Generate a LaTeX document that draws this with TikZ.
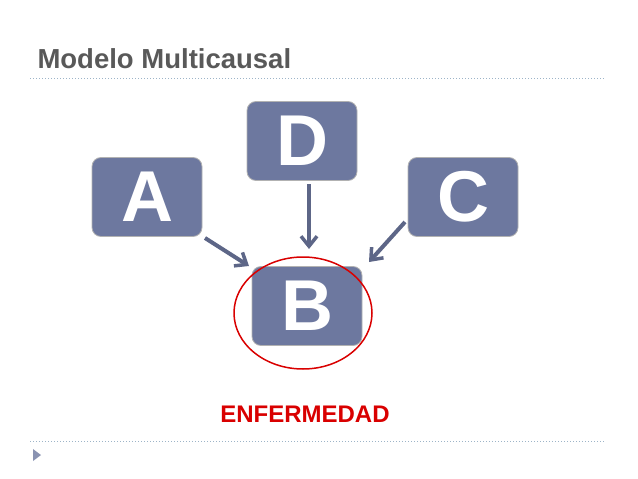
\documentclass[tikz,border=0pt]{standalone}
\usepackage{fontspec}
\setmainfont{Liberation Sans}
\usetikzlibrary{arrows.meta}
\definecolor{boxc}{HTML}{6D789F}
\definecolor{titc}{HTML}{595959}
\definecolor{dotc}{HTML}{9DB4C8}
\begin{document}
\begin{tikzpicture}[x=1pt,y=-1pt,
  box/.style={draw=gray!60,line width=0.8pt,fill=boxc,rounded corners=9pt,minimum width=110pt,minimum height=79pt,inner sep=0pt,text=white,font=\fontsize{72}{72}\selectfont\bfseries},
  arr/.style={draw=boxc!85!black,line width=4pt,-{Straight Barb[length=10pt,width=16pt,line width=3.5pt]}}]
\useasboundingbox (0,0) rectangle (638,479);
\node[anchor=west,text=titc,font=\fontsize{27.5}{27.5}\selectfont\bfseries] (title) at (34,59) {Modelo Multicausal};
\draw[dotc,dotted,line width=1pt] (30,78) -- (605,78);
\draw[dotc,dotted,line width=1pt] (30,441) -- (605,441);
\fill[boxc!80] (33,449) -- (41,455) -- (33,461) -- cycle;
\node[box] (A) at (147,197) {A};
\node[box] (D) at (302,141) {D};
\node[box] (C) at (463,197) {C};
\node[box] (B) at (307,306) {B};
\draw[red!85!black,line width=1.5pt] (303,313) ellipse [x radius=69,y radius=56];
\coordinate (a1) at (205,238); \coordinate (a2) at (249,266);
\coordinate (d1) at (309,184); \coordinate (d2) at (309,249);
\coordinate (c1) at (405,222); \coordinate (c2) at (369,262);
\draw[arr] (a1) -- (a2);
\draw[arr] (d1) -- (d2);
\draw[arr] (c1) -- (c2);
\node[text=red!85!black,font=\fontsize{24}{24}\selectfont\bfseries] (enf) at (305,414) {ENFERMEDAD};
\end{tikzpicture}
\end{document}
